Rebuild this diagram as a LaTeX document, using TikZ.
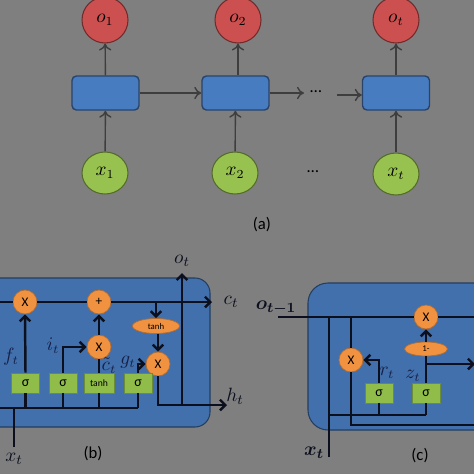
\documentclass[tikz,border=0pt]{standalone}
\usepackage{fontspec}
\setmainfont{Carlito}
\usepackage{amsmath,amssymb}
\usetikzlibrary{positioning, arrows.meta, shapes}

\definecolor{bg}{RGB}{127,127,127}
\definecolor{cellblue}{RGB}{72,124,192}
\definecolor{outred}{RGB}{204,80,80}
\definecolor{ingreen}{RGB}{152,194,80}
\definecolor{gategreen}{RGB}{144,188,74}
\definecolor{opor}{RGB}{240,146,64}
\definecolor{linkgray}{RGB}{62,62,62}
\definecolor{wireblk}{RGB}{12,16,30}
\definecolor{labnavy}{RGB}{22,32,70}

\tikzset{
  cell/.style={draw=cellblue!55!black, fill=cellblue, rounded corners=2.5pt, line width=0.8pt,
    minimum width=1.34cm, minimum height=0.68cm},
  outn/.style={circle, draw=outred!55!black, fill=outred, line width=0.6pt, inner sep=0pt,
    minimum size=0.92cm, font=\fontsize{10.5}{12}\selectfont},
  inn/.style={ellipse, draw=ingreen!55!black, fill=ingreen, line width=0.6pt, inner sep=0pt,
    minimum width=0.92cm, minimum height=0.84cm, font=\fontsize{10.5}{12}\selectfont},
  link/.style={draw=linkgray, line width=0.8pt, -{To[length=4pt,width=7pt]}},
  bigbox/.style={draw=cellblue!50!black, fill=cellblue!90!black, line width=0.6pt},
  gatebox/.style={draw=gategreen!75!black, fill=gategreen, line width=0.4pt, inner sep=0pt,
    minimum width=0.56cm, minimum height=0.4cm, font=\fontsize{8}{9}\selectfont},
  opn/.style={circle, draw=opor!75!black, fill=opor, line width=0.4pt, inner sep=0pt,
    minimum size=0.48cm, font=\fontsize{7.5}{8}\selectfont},
  actn/.style={ellipse, draw=opor!75!black, fill=opor, line width=0.4pt, inner sep=0pt,
    minimum width=0.94cm, minimum height=0.3cm, font=\fontsize{5}{6}\selectfont},
  wire/.style={draw=wireblk, line width=1.4pt},
  warr/.style={wire, -{Straight Barb[length=3pt,width=6pt]}},
  lab/.style={font=\fontsize{11}{12}\selectfont, text=wireblk},
  glab/.style={font=\fontsize{10.5}{12}\selectfont, text=labnavy},
  sublab/.style={font=\fontsize{9.5}{11}\selectfont, text=black},
}

\begin{document}
\begin{tikzpicture}[x=0.02cm, y=-0.02cm]
    \path[use as bounding box, fill=bg] (0,0) rectangle (474,474);
    \clip (0,0) rectangle (474,474);

    %% (a) unrolled network
    \node[cell] (h1) at (105.5,93) {};
    \node[cell] (h2) at (235.5,93) {};
    \node[cell] (h3) at (396,93) {};
    \node[outn] (o1) at (105,20) {$o_1$};
    \node[outn] (o2) at (238,20) {$o_2$};
    \node[outn] (o3) at (396,20) {$o_t$};
    \node[inn] (x1) at (105,173) {$x_1$};
    \node[inn] (x2) at (235,173) {$x_2$};
    \node[inn] (x3) at (396,174) {$x_t$};
    \node[sublab, inner sep=0pt] (hdots) at (316,92) {…};
    \node[sublab, inner sep=0pt] (xdots) at (313,172) {…};
    \node[sublab] (capa) at (262,225) {(a)};
    \coordinate (dl) at (304,93);
    \coordinate (dr) at (337,95);

    \draw[link] (x1) -- (h1);
    \draw[link] (x2) -- (h2);
    \draw[link] (x3) -- (h3);
    \draw[link] (h1) -- (o1);
    \draw[link] (h2.north -| o2) -- (o2);
    \draw[link] (h3) -- (o3);
    \draw[link] (h1) -- (h2);
    \draw[link] (h2) -- (dl);
    \draw[link] (dr) -- (dr -| h3.west);

    %% (b) lstm cell
    \draw[bigbox, rounded corners=0.3cm] (-30,278) rectangle (210,427);
    \coordinate (cin) at (0,302);
    \coordinate (cout) at (212,302);
    \coordinate (bl) at (0,408);
    \coordinate (obot) at (182,405);
    \coordinate (otop) at (182,273);
    \coordinate (hout) at (227,405);
    \coordinate (xbot) at (14,447);

    \node[opn] (mf) at (25,302) {X};
    \node[opn] (ma) at (99,302) {+};
    \node[opn] (mi) at (99,347) {X};
    \node[opn] (mo) at (158,364) {X};
    \node[actn] (th) at (156,326) {tanh};
    \node[gatebox] (g1) at (25.5,383) {σ};
    \node[gatebox] (g2) at (63,383) {σ};
    \node[gatebox, minimum width=0.6cm, font=\fontsize{5.5}{6}\selectfont] (g3) at (99,383) {tanh};
    \node[gatebox] (g4) at (138,383) {σ};

    \draw[wire] (cin) -- (mf.west);
    \draw[wire] (mf.east) -- (ma.west);
    \draw[warr] (ma.east) -- (cout);
    \draw[warr] (g1.north) -- (mf.south);
    \draw[warr] (g2.north) |- (mi.west);
    \draw[wire] (g3.north) -- (mi.south);
    \draw[warr] (mi.north) -- (ma.south);
    \draw[warr] (th.north |- cin) -- (th.north);
    \draw[warr] (th.south -| mo) -- (mo.north);
    \draw[warr] (g4.north) |- (mo.west);
    \draw[wire] (bl) -- (g4.south |- bl);
    \foreach \g in {g1,g2,g3,g4}
        \draw[wire] (\g.south |- bl) -- (\g.south);
    \draw[wire] (xbot) -- (xbot |- bl);
    \draw[warr] (mo.south) |- (hout);
    \draw[warr] (obot) -- (otop);

    \node[lab] (ctl) at (231,302) {$c_t$};
    \node[lab] (htl) at (235,396) {$h_t$};
    \node[lab] (otl) at (182,261) {$o_t$};
    \node[lab] (xtl) at (14,459) {$x_t$};
    \node[glab] (ftl) at (11,357) {$f_t$};
    \node[glab] (itl) at (53,346) {$i_t$};
    \node[glab] (cgl) at (109,366) {$\tilde{c}_t$};
    \node[glab] (gtl) at (128,362) {$g_t$};
    \node[sublab] (capb) at (93,454) {(b)};

    %% (c) gru cell
    \draw[bigbox, rounded corners=0.4cm] (308,283) rectangle (520,430);
    \coordinate (hin) at (278,317);
    \coordinate (hend) at (480,317);
    \coordinate (xin) at (329,457);
    \coordinate (rtop) at (351,317);
    \coordinate (rbot) at (351,425);
    \coordinate (rend) at (480,425);
    \coordinate (cbl) at (329,415);
    \coordinate (zend) at (475,364);

    \node[opn] (mh) at (426,317) {X};
    \node[opn] (mr) at (351,360) {X};
    \node[actn, minimum width=0.86cm, minimum height=0.28cm] (one) at (426,349) {1-};
    \node[gatebox] (gr) at (379,393) {σ};
    \node[gatebox] (gz) at (426,393) {σ};

    \draw[wire] (hin) -- (mh.west);
    \draw[wire] (mh.east) -- (hend);
    \draw[wire] (xin) -- (xin |- hin);
    \draw[wire] (rtop) -- (mr.north);
    \draw[wire] (mr.south) -- (rbot) -- (rend);
    \draw[wire] (cbl) -- (gz.south |- cbl);
    \draw[wire] (gr.south |- cbl) -- (gr.south);
    \draw[wire] (gz.south |- cbl) -- (gz.south);
    \draw[warr] (gr.north) |- (mr.east);
    \draw[wire] (gz.north) -- (one.south);
    \draw[warr] (one.north) -- (mh.south);
    \draw[warr] (gz.north |- zend) -- (zend);

    \node[lab] (hpl) at (276,308) {$\boldsymbol{o_{t-1}}$};
    \node[lab] (xcl) at (314,453) {$\boldsymbol{x_t}$};
    \node[glab] (rtl) at (387,373) {$r_t$};
    \node[glab] (ztl) at (413,376) {$z_t$};
    \node[sublab] (capc) at (420,456) {(c)};
\end{tikzpicture}
\end{document}
